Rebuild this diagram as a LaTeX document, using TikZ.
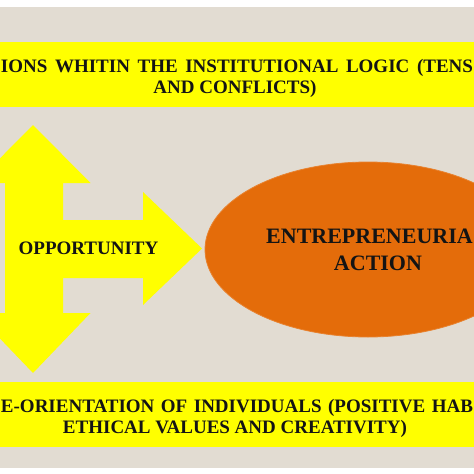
\documentclass[tikz,border=0pt]{standalone}
\usepackage{fontspec}
\setmainfont{Liberation Serif}
\usetikzlibrary{shapes.geometric}
\definecolor{paper}{HTML}{E2DCD2}
\definecolor{band}{HTML}{FFFF00}
\definecolor{orng}{HTML}{E46C0A}
\definecolor{ink}{HTML}{141414}
\begin{document}
\begin{tikzpicture}[x=1pt,y=-1pt,
  lbl/.style={inner sep=0pt, anchor=base, text=ink, font=\bfseries\fontsize{19}{22}\selectfont},
  big/.style={lbl, font=\bfseries\fontsize{22}{27}\selectfont},
  bandbox/.style={fill=band},
  arrowshape/.style={fill=band}]
\useasboundingbox (0,0) rectangle (474,474);
\clip (0,0) rectangle (474,474);
\fill[white] (0,0) rectangle (474,474);
\fill[paper] (0,7) rectangle (474,468);
% bands
\fill[bandbox] (0,42) rectangle (474,107);
\fill[bandbox] (0,382) rectangle (474,447);
% three-headed arrow
\fill[arrowshape] (33,125) -- (90.5,183) -- (63,183) -- (63,220) -- (143,220) -- (143,192)
  -- (202,248.5) -- (143,305) -- (143,278) -- (63,278) -- (63,313) -- (90.5,313)
  -- (33,373) -- (-24.5,313) -- (5,313) -- (5,183) -- (-24.5,183) -- cycle;
% ellipse
\node[ellipse, fill=orng, draw=orng!85!white, line width=0.8pt, minimum width=326pt, minimum height=175pt, inner sep=0pt] (ea) at (368,249.5) {};
% texts
\node[lbl] (t1) at (237,72) {\makebox[472pt][s]{IONS WHITIN THE INSTITUTIONAL LOGIC (TENS}};
\node[lbl] (t2) at (235,93) {AND CONFLICTS)};
\node[lbl] (b1) at (237,412) {\makebox[472pt][s]{E-ORIENTATION OF INDIVIDUALS (POSITIVE HAB}};
\node[lbl] (b2) at (235,433) {ETHICAL VALUES AND CREATIVITY)};
\node[lbl] (opp) at (88.5,254) {OPPORTUNITY};
\node[big, anchor=base west] (ea1) at (266,243) {ENTREPRENEURIA};
\node[big] (ea2) at (378,270) {ACTION};
\end{tikzpicture}
\end{document}
